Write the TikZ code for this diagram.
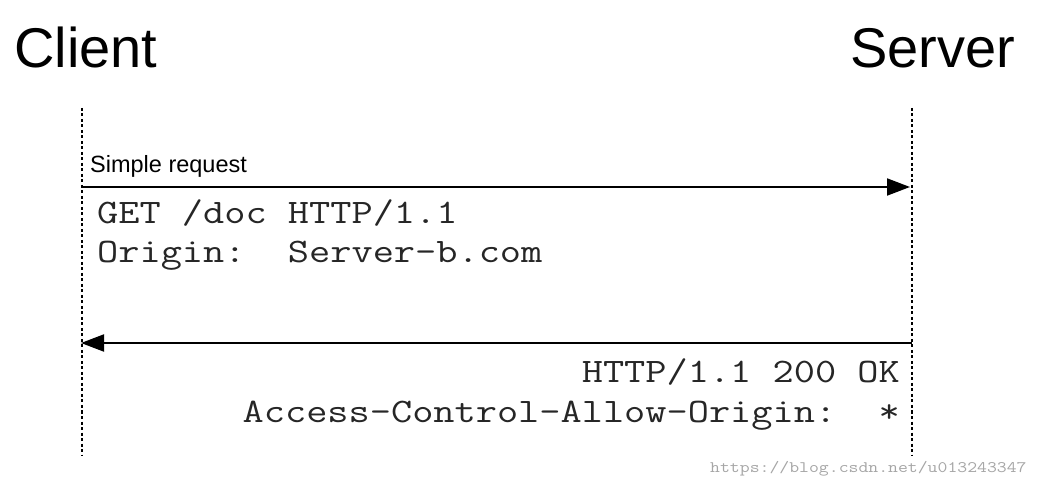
\documentclass[tikz,border=0pt]{standalone}
\usepackage{fontspec}
\setmainfont{Liberation Sans}
\setmonofont{Latin Modern Mono}[FakeStretch=1.2]
\usetikzlibrary{arrows.meta}

\begin{document}
\begin{tikzpicture}[x=1pt,y=-1pt]
\tikzstyle{every node}+=[inner sep=0pt]
\tikzstyle{party}=[anchor=base west,font=\fontsize{56}{60}\selectfont]
\tikzstyle{msgtext}=[font=\fontsize{34.3}{40}\selectfont\ttfamily,text=black!85]
\tikzstyle{lifeline}=[black,line width=2pt,dash pattern=on 3pt off 2.5pt]
\tikzstyle{msg}=[black,line width=2pt,-{Triangle[length=23pt,width=17pt]}]
\useasboundingbox (0,0) rectangle (1042,486);
\fill [white] (0,0) rectangle (1042,486);
\node [party] (client) at (14,68) {Client};
\node [party] (server) at (850,68) {Server};
\coordinate (clienttop) at (82,108);
\coordinate (clientbot) at (82,455);
\coordinate (servertop) at (912,108);
\coordinate (serverbot) at (912,455);
\draw [lifeline] (clienttop) -- (clientbot);
\draw [lifeline] (servertop) -- (serverbot);
\coordinate (reqstart) at (82,187);
\coordinate (reqend) at (910,187);
\draw [msg] (reqstart) -- (reqend);
\node [anchor=base west,font=\fontsize{23.5}{26}\selectfont] (reqlabel) at (90,173) {Simple request};
\node [msgtext,anchor=base west] (reqline1) at (97,224) {GET /doc HTTP/1.1};
\node [msgtext,anchor=base west] (reqline2) at (97,263) {Origin:\ \ Server-b.com};
\coordinate (resstart) at (912,343);
\coordinate (resend) at (81,343);
\draw [msg] (resstart) -- (resend);
\node [msgtext,anchor=base east] (resline1) at (900,383) {HTTP/1.1 200 OK};
\node [msgtext,anchor=base east] (resline2) at (900,422) {Access-Control-Allow-Origin:\ \ *};
\node [anchor=base west,font=\fontsize{16}{20}\selectfont\ttfamily,text=black!35] (mark) at (710,472) {https://blog.csdn.net/u013243347};
\end{tikzpicture}
\end{document}
